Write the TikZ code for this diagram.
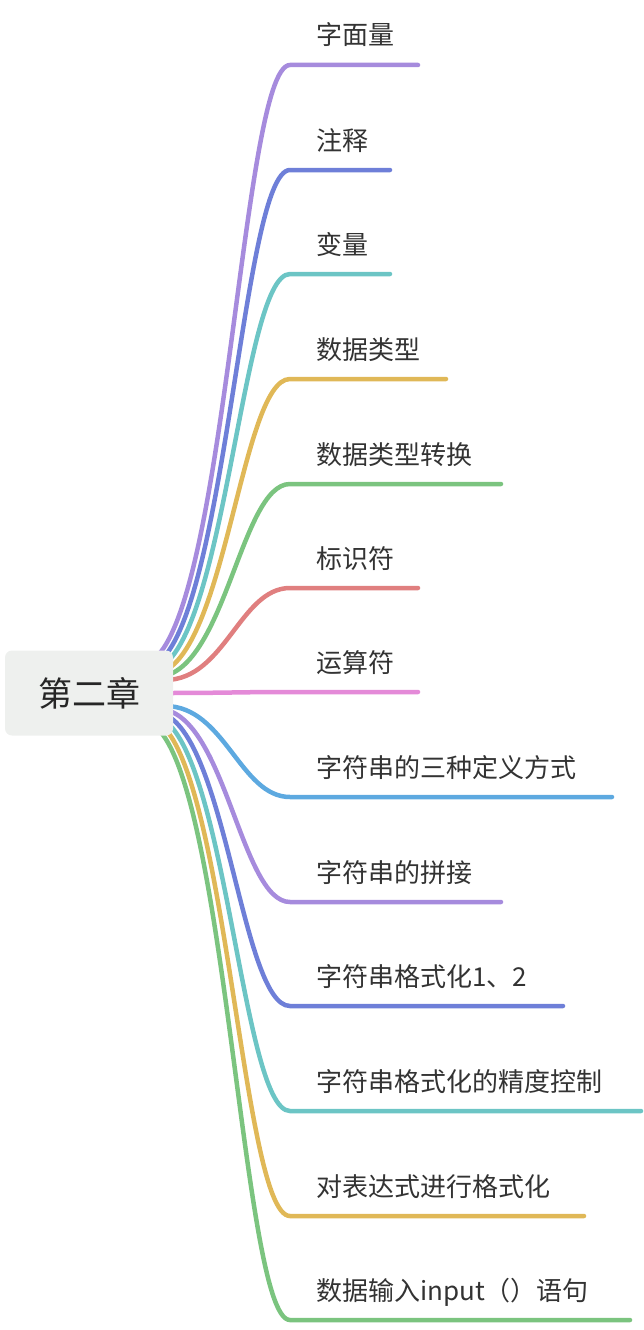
\documentclass[tikz,border=0pt]{standalone}
\usepackage{fontspec}
\setmainfont{Noto Sans CJK SC}
\begin{document}
\begin{tikzpicture}[x=1pt,y=-1pt,
  br/.style={line width=4.5pt,line cap=round},
  lab/.style={anchor=base west,font=\fontsize{26}{26}\selectfont,text=black!80,inner sep=0pt}]
\useasboundingbox (0,0) rectangle (644,1330);
\definecolor{cP}{HTML}{A68BDD}\definecolor{cB}{HTML}{6E7FD8}
\definecolor{cT}{HTML}{6CC5C5}\definecolor{cY}{HTML}{E0B857}
\definecolor{cG}{HTML}{7BC47F}\definecolor{cR}{HTML}{E07F7F}
\definecolor{cK}{HTML}{E48AD8}\definecolor{cL}{HTML}{5DA9E0}
\foreach \i/\y/\e/\c/\t/\sx/\sy in {
 1/65/418/cP/字面量/140/665,
 2/170/390/cB/注释/144/668,
 3/274/390/cT/变量/148/671,
 4/379/446/cY/数据类型/152/674,
 5/484/501/cG/数据类型转换/156/677,
 6/588/418/cR/标识符/165/680,
 7/692/418/cK/运算符/165/693,
 8/797/612/cL/字符串的三种定义方式/165/706,
 9/902/501/cP/字符串的拼接/158/709,
 10/1006/563/cB/字符串格式化1、2/154/712,
 11/1111/641/cT/字符串格式化的精度控制/150/715,
 12/1216/584/cY/对表达式进行格式化/146/718,
 13/1320/630/cG/数据输入input（）语句/142/721}{
  \coordinate (s\i) at (\sx,\sy);
  \coordinate (m\i) at (290,\y);
  \coordinate (e\i) at (\e,\y);
  \draw[br,draw=\c] (s\i) .. controls (225,\sy) and (240,\y) .. (m\i) -- (e\i);
  \node[lab] (t\i) at (316,\y-20) {\t};
}
\node[fill={rgb,255:red,238;green,240;blue,238},rounded corners=7pt,minimum width=168pt,minimum height=85pt,font=\fontsize{34}{34}\selectfont,text=black!85] (root) at (89,693) {第二章};
\end{tikzpicture}
\end{document}
